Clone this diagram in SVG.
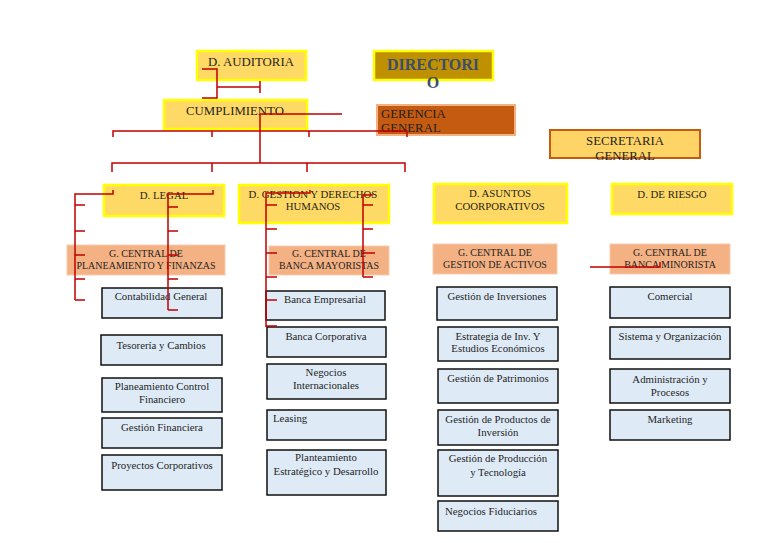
<svg xmlns="http://www.w3.org/2000/svg" width="768" height="543" viewBox="0 0 768 543">
<style>
text{font-family:"Liberation Serif","DejaVu Serif",serif;fill:#1f1f1f}
.y{fill:#FFD966;stroke:#FFFF00;stroke-width:2.5}
.s{fill:#F4B183;stroke:#F8CBAD;stroke-width:1}
.b{fill:#DEEBF7;stroke:#111;stroke-width:1.5}
.t1{font-size:12.8px}
.t2{font-size:10.8px}
.t3{font-size:10px}
.t4{font-size:10.8px}
.c{stroke:#C00000;stroke-width:1.5;fill:none}
</style>
<rect width="768" height="543" fill="#fff"/>
<g id="auditoria"><rect class="y" x="197" y="51" width="109" height="29"/><text class="t1" x="251" y="66" text-anchor="middle">D. AUDITORIA</text></g>
<g id="directorio"><rect x="374" y="51" width="119" height="29" fill="#BF9000" stroke="#FFFF00" stroke-width="2.5"/><text x="433" y="70" text-anchor="middle" font-size="16" style="fill:#3B4E6E;font-weight:bold">DIRECTORI</text><text x="433" y="88" text-anchor="middle" font-size="16" style="fill:#3B4E6E;font-weight:bold">O</text></g>
<g id="cumplimiento"><rect class="y" x="164" y="100" width="143" height="29"/><text class="t1" x="235" y="115" text-anchor="middle">CUMPLIMIENTO</text></g>
<g id="gerencia"><rect x="377" y="105" width="138" height="30" fill="#C55A11" stroke="#F4B183" stroke-width="2"/><text class="t1" x="381" y="118">GERENCIA</text><text class="t1" x="381" y="132">GENERAL</text></g>
<g id="secretaria"><rect x="550" y="130" width="150" height="28" fill="#FFD466" stroke="#C55A11" stroke-width="2"/><text class="t1" x="625" y="145" text-anchor="middle">SECRETARIA</text><text class="t1" x="625" y="160" text-anchor="middle">GENERAL</text></g>

<g id="legal"><rect class="y" x="104" y="185" width="120" height="31"/><text class="t2" x="164" y="199" text-anchor="middle">D. LEGAL</text></g>
<g id="gestion"><rect class="y" x="239" y="185" width="150" height="38"/><text class="t2" x="313" y="198" text-anchor="middle">D. GESTION Y DERECHOS</text><text class="t2" x="313" y="210" text-anchor="middle">HUMANOS</text></g>
<g id="asuntos"><rect class="y" x="434" y="184" width="133" height="39"/><text class="t2" x="500" y="197" text-anchor="middle">D. ASUNTOS</text><text class="t2" x="500" y="210" text-anchor="middle">COORPORATIVOS</text></g>
<g id="riesgo"><rect class="y" x="612" y="184" width="120" height="30"/><text class="t2" x="672" y="198" text-anchor="middle">D. DE RIESGO</text></g>

<g id="gc-planeamiento"><rect class="s" x="67" y="245" width="158" height="30"/><text class="t3" x="146" y="257" text-anchor="middle">G. CENTRAL DE</text><text class="t3" x="146" y="269" text-anchor="middle">PLANEAMIENTO Y FINANZAS</text></g>
<g id="gc-mayoristas"><rect class="s" x="269" y="246" width="120" height="29"/><text class="t3" x="329" y="257" text-anchor="middle">G. CENTRAL DE</text><text class="t3" x="329" y="269" text-anchor="middle">BANCA MAYORISTAS</text></g>
<g id="gc-activos"><rect class="s" x="433" y="244" width="124" height="30"/><text class="t3" x="495" y="256" text-anchor="middle">G. CENTRAL DE</text><text class="t3" x="495" y="268" text-anchor="middle">GESTION DE ACTIVOS</text></g>
<g id="gc-minorista"><rect class="s" x="610" y="244" width="120" height="30"/><text class="t3" x="670" y="256" text-anchor="middle">G. CENTRAL DE</text><text class="t3" x="670" y="268" text-anchor="middle">BANCA MINORISTA</text></g>

<g id="contabilidad"><rect class="b" x="102" y="288" width="120" height="30"/><text class="t4" x="161" y="300" text-anchor="middle">Contabilidad General</text></g>
<g id="tesoreria"><rect class="b" x="101" y="335" width="121" height="30"/><text class="t4" x="161" y="349" text-anchor="middle">Tesorería y Cambios</text></g>
<g id="planeamiento-control"><rect class="b" x="102" y="378" width="120" height="34"/><text class="t4" x="162" y="390" text-anchor="middle">Planeamiento Control</text><text class="t4" x="162" y="403" text-anchor="middle">Financiero</text></g>
<g id="gestion-financiera"><rect class="b" x="102" y="418" width="120" height="30"/><text class="t4" x="162" y="431" text-anchor="middle">Gestión Financiera</text></g>
<g id="proyectos"><rect class="b" x="102" y="455" width="120" height="35"/><text class="t4" x="162" y="469" text-anchor="middle">Proyectos Corporativos</text></g>

<g id="banca-empresarial"><rect class="b" x="266" y="291" width="119" height="29"/><text class="t4" x="325" y="303" text-anchor="middle">Banca Empresarial</text></g>
<g id="banca-corporativa"><rect class="b" x="267" y="327" width="119" height="30"/><text class="t4" x="326" y="340" text-anchor="middle">Banca Corporativa</text></g>
<g id="negocios-internacionales"><rect class="b" x="267" y="364" width="119" height="35"/><text class="t4" x="326" y="376" text-anchor="middle">Negocios</text><text class="t4" x="326" y="389" text-anchor="middle">Internacionales</text></g>
<g id="leasing"><rect class="b" x="267" y="410" width="119" height="30"/><text class="t4" x="273" y="422">Leasing</text></g>
<g id="planteamiento"><rect class="b" x="267" y="450" width="119" height="45"/><text class="t4" x="326" y="461" text-anchor="middle">Planteamiento</text><text class="t4" x="326" y="475" text-anchor="middle">Estratégico y Desarrollo</text></g>

<g id="inversiones"><rect class="b" x="437" y="287" width="120" height="33"/><text class="t4" x="497" y="300" text-anchor="middle">Gestión de Inversiones</text></g>
<g id="estrategia"><rect class="b" x="438" y="327" width="120" height="34"/><text class="t4" x="498" y="340" text-anchor="middle">Estrategia de Inv. Y</text><text class="t4" x="498" y="352" text-anchor="middle">Estudios Económicos</text></g>
<g id="patrimonios"><rect class="b" x="438" y="369" width="120" height="34"/><text class="t4" x="498" y="382" text-anchor="middle">Gestión de Patrimonios</text></g>
<g id="productos"><rect class="b" x="438" y="410" width="120" height="35"/><text class="t4" x="498" y="423" text-anchor="middle">Gestión de Productos de</text><text class="t4" x="498" y="436" text-anchor="middle">Inversión</text></g>
<g id="produccion"><rect class="b" x="438" y="450" width="120" height="46"/><text class="t4" x="498" y="462" text-anchor="middle">Gestión de Producción</text><text class="t4" x="498" y="476" text-anchor="middle">y Tecnología</text></g>
<g id="fiduciarios"><rect class="b" x="438" y="501" width="120" height="30"/><text class="t4" x="445" y="515">Negocios Fiduciarios</text></g>

<g id="comercial"><rect class="b" x="610" y="287" width="120" height="31"/><text class="t4" x="670" y="300" text-anchor="middle">Comercial</text></g>
<g id="sistema"><rect class="b" x="610" y="327" width="120" height="32"/><text class="t4" x="670" y="340" text-anchor="middle">Sistema y Organización</text></g>
<g id="administracion"><rect class="b" x="610" y="369" width="120" height="34"/><text class="t4" x="670" y="383" text-anchor="middle">Administración y</text><text class="t4" x="670" y="396" text-anchor="middle">Procesos</text></g>
<g id="marketing"><rect class="b" x="610" y="410" width="120" height="30"/><text class="t4" x="670" y="423" text-anchor="middle">Marketing</text></g>

<g id="connectors" class="c">
<path d="M202 69H217V98H202M217 87H260M260 81V93"/>
<path d="M260 114H342M260 114V163"/>
<path d="M113 137V131H407V137M212 131V137M309 131V137"/>
<path d="M112 172V163H405V172M212 163V172M307 163V172"/>
<path d="M113 190V194H75V300M75 205H85M75 231H85M75 255H85M75 279H85M75 300H85"/>
<path d="M213 190V194H168V310M168 207H178M168 231H178M168 255H178M168 279H178M168 310H178"/>
<path d="M310 190V193H266V327M266 205H277M266 229H277M266 253H277M266 277H277M266 300H277M266 326H277"/>
<path d="M373 195H363V277M363 205H373M363 229H373M363 253H375M363 277H373"/>
<path d="M590 267H660V262"/>
</g>
</svg>
